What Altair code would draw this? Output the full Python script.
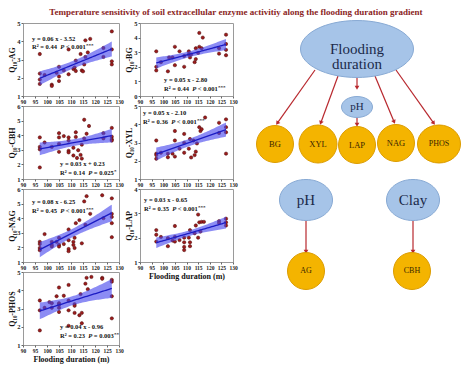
import altair as alt
import numpy as np
import pandas as pd

TITLE = "Temperature sensitivity of soil extracellular enzyme activitiy along the flooding duration gradient"
SERIF = "Liberation Serif"

# ---------------- scatter panel data ----------------
ag_x = [97, 97, 97, 97, 99, 102, 102, 104, 105, 105, 105, 107, 109, 109, 111, 112, 111.5, 112, 114, 114.5, 115, 115.5, 116, 116, 118, 117, 123.5, 123.5, 127, 127, 127, 127]
ag_y = [3.3, 2.23, 1.9, 1.66, 2.15, 1.62, 1.55, 2.27, 2.6, 2.07, 1.82, 2.4, 3.55, 2.19, 2.48, 2.37, 2.56, 2.94, 3.3, 2.4, 2.35, 2.73, 3.14, 4.05, 4.13, 3.39, 3.63, 3.14, 4.54, 3.55, 2.9, 2.73]

bg_x = [97, 97, 97, 99, 102, 104, 105, 105, 107, 109, 109, 111, 111, 111.5, 113.5, 114, 115.5, 115.5, 116.5, 117, 114, 115, 124, 124, 127, 127, 127, 127, 112, 102.5]
bg_y = [3.06, 2.0, 1.75, 2.32, 1.69, 2.64, 3.37, 2.11, 3.06, 2.74, 2.0, 2.85, 3.06, 2.64, 2.32, 3.27, 4.32, 3.37, 3.27, 4.0, 2.53, 2.95, 3.27, 2.9, 4.2, 3.56, 3.16, 2.79, 2.85, 2.64]

cbh_x = [97, 97, 97, 97, 99, 102, 105, 105, 105, 105, 107, 109, 109, 109, 109, 111, 112, 112, 111, 113, 112.5, 114, 114.5, 114.5, 115.5, 115.5, 117.5, 116.5, 123.5, 123.5, 127, 127, 127, 127]
cbh_y = [3.85, 3.2, 3.03, 1.79, 3.5, 3.2, 3.41, 4.14, 3.85, 2.86, 3.94, 3.85, 3.63, 2.93, 2.82, 3.14, 4.2, 3.88, 2.61, 2.97, 2.44, 2.65, 2.4, 3.35, 5.06, 3.78, 4.63, 4.1, 4.14, 3.78, 4.5, 3.9, 3.72, 3.63]

xyl_x = [97, 97, 97, 97, 99, 102, 102, 104, 105, 105, 105, 107, 109, 109, 109, 111, 111.5, 112, 113, 113.5, 114, 114.5, 115.5, 116, 116.5, 118, 124, 124, 127, 127, 127, 127]
xyl_y = [3.11, 2.39, 2.11, 2.31, 2.44, 2.39, 2.19, 2.39, 3.11, 3.63, 2.23, 2.66, 3.47, 2.44, 2.98, 2.66, 3.19, 2.18, 3.11, 2.31, 2.5, 2.95, 3.84, 3.63, 3.73, 4.37, 4.08, 3.52, 4.27, 3.84, 3.56, 2.39]

nag_x = [97, 97, 97, 97, 99, 102, 102, 102, 104, 105, 105, 105, 107, 109, 109, 109, 109, 111, 111.5, 111, 111.5, 112, 113.5, 114.5, 115.5, 116, 116.5, 118, 123, 123.5, 127, 127, 127, 127, 127]
nag_y = [2.38, 2.23, 1.96, 1.81, 2.91, 2.38, 2.17, 2.06, 2.38, 2.66, 2.17, 2.06, 2.23, 3.23, 2.49, 1.89, 1.74, 2.38, 2.66, 2.17, 1.96, 3.66, 3.87, 2.28, 5.15, 3.55, 5.51, 4.3, 5.57, 4.0, 5.36, 4.3, 3.66, 2.7, 4.09]

lap_x = [97, 97, 97, 99, 102, 102, 104, 105, 105, 105, 107, 109, 109, 109, 109, 111, 111.5, 111.5, 111.5, 113.5, 114, 115, 115, 115.5, 116, 116.5, 117.5, 124, 124, 127, 127, 127]
lap_y = [2.31, 2.12, 1.84, 2.03, 1.98, 1.65, 1.88, 2.48, 2.03, 1.84, 1.9, 2.0, 1.81, 1.62, 1.49, 2.0, 2.31, 1.81, 1.65, 2.18, 2.5, 2.95, 2.0, 2.63, 2.25, 2.65, 2.65, 2.68, 2.6, 2.78, 2.63, 2.5]

phos_x = [116.5, 118.5, 123, 123, 127, 127, 116, 117, 109, 105, 104, 107, 114, 97, 101, 105, 105, 127, 97, 97, 99, 102, 102, 105, 105, 109, 109, 109, 111.5, 111.5, 111.5, 113.5, 114.5, 114.5, 127]
phos_y = [4.68, 4.73, 4.68, 4.63, 4.57, 4.47, 4.36, 4.06, 4.29, 4.15, 3.67, 3.7, 3.79, 3.44, 3.35, 3.29, 3.2, 3.67, 2.9, 1.8, 3.04, 3.29, 3.04, 3.04, 2.81, 2.9, 3.44, 2.05, 3.24, 3.15, 2.76, 2.63, 2.76, 2.19, 2.46]

x_ticks = [90, 95, 100, 105, 110, 115, 120, 125, 130]

# ---------------- diagram data (page-pixel layout positions) ----------------
node_label = ["Flooding\nduration", "pH", "BG", "XYL", "LAP", "NAG", "PHOS", "pH", "Clay", "AG", "CBH"]
node_kind = ["factor", "factor", "enzyme", "enzyme", "enzyme", "enzyme", "enzyme", "factor", "factor", "enzyme", "enzyme"]
node_px = [358, 358, 276, 319, 358, 397, 440, 307, 414, 307, 413]
node_py = [51, 109, 146, 146, 147, 145, 146, 202, 202, 273, 273]
node_w = [113, 31, 37, 38, 37, 37, 43, 53, 53, 37, 37]
node_h = [57, 21, 37, 38, 35, 37, 38, 41, 41, 35, 37]
node_fs = [15, 11, 8.5, 8.5, 8.5, 8.5, 8, 15, 15, 8, 8]

arr_x1 = [316, 339, 358, 358, 376, 397, 307, 414]
arr_y1 = [72, 78, 79, 119, 78, 72, 223, 223]
arr_x2 = [277, 321, 358, 358, 396, 436, 307, 414]
arr_y2 = [127, 127, 92, 129, 126, 127, 256, 256]

DX0, DY0, DW, DH = 242, 25, 222, 290

CW = {"0": .5, "1": .5, "2": .5, "3": .5, "4": .5, "5": .5, "6": .5, "7": .5, "8": .5, "9": .5,
      ".": .25, " ": .25, "=": .57, "<": .57, "R": .722, "²": .3, "P": .611, "-": .333, "+": .57,
      "x": .5, "y": .5}


def tw(s, fs):
    return sum(CW.get(c, .5) for c in s) * fs


def txt(s, x, y, fs=6.5, style="normal", weight="bold"):
    return alt.Chart(pd.DataFrame({"t": [s]})).mark_text(
        align="left", baseline="middle", font=SERIF, fontSize=fs, fontWeight=weight,
        fontStyle=style, color="#111111"
    ).encode(x=alt.value(x), y=alt.value(y), text="t:N")


def panel(name, xs, ys, ylo, yhi, eq, r2, ptxt, stars, ax, ay, w, h, xtitle):
    x = np.array(xs, float)
    y = np.array(ys, float)
    n = len(x)
    b1, b0 = np.polyfit(x, y, 1)
    xg = np.linspace(x.min(), x.max(), 50)
    fit = b0 + b1 * xg
    s = np.sqrt(np.sum((y - (b0 + b1 * x)) ** 2) / (n - 2))
    se = s * np.sqrt(1 / n + (xg - x.mean()) ** 2 / np.sum((x - x.mean()) ** 2))
    t = 2.04
    band = pd.DataFrame({"x": xg, "fit": fit, "lo": fit - t * se, "hi": fit + t * se})
    pts = pd.DataFrame({"x": x, "y": y})

    xsc = alt.Scale(domain=[90, 130], nice=False)
    ysc = alt.Scale(domain=[ylo, yhi], nice=False)
    xkw = dict(values=x_ticks, format="d", tickSize=2, labelPadding=1, labelFontSize=5.5,
               labelOverlap=False, labelFlush=False, tickCount=9)
    if xtitle:
        xkw["title"] = "Flooding duration (m)"
        xkw["titlePadding"] = 2
    else:
        xkw["title"] = ""
    xax = alt.Axis(**xkw)
    yax = alt.Axis(values=list(range(ylo, yhi + 1)), format="d", tickSize=2, labelPadding=1,
                   tickCount=yhi - ylo + 1,
                   title="Q₁₀-" + name, titlePadding=0, labelOverlap=False, labelFlush=False)

    p = alt.Chart(pts).mark_circle(size=11, color="#9c1c1c", opacity=1, stroke="#4a0a0a",
                                   strokeWidth=0.5).encode(
        x=alt.X("x:Q", scale=xsc, axis=xax), y=alt.Y("y:Q", scale=ysc, axis=yax))
    b = alt.Chart(band).mark_area(color="#4646ee", opacity=0.62, clip=True).encode(
        x=alt.X("x:Q", scale=xsc, axis=xax), y=alt.Y("lo:Q", scale=ysc, axis=yax), y2="hi:Q")
    l = alt.Chart(band).mark_line(color="#1c1cc4", strokeWidth=1.3, clip=True).encode(
        x=alt.X("x:Q", scale=xsc, axis=xax), y=alt.Y("fit:Q", scale=ysc, axis=yax))

    fs = 6.5
    r2s = "R² = " + r2
    k = h / 78.0
    ay = ay * k
    xP = ax + tw(r2s + "  ", fs)
    xrest = xP + tw("P ", fs)
    xstar = xrest + tw(ptxt, fs) + 0.3
    texts = [
        txt(eq, ax, ay),
        txt(r2s, ax, ay + 8.5),
        txt("P", xP, ay + 8.5, style="italic"),
        txt(ptxt, xrest, ay + 8.5),
        txt(stars, xstar, ay + 6.5, fs=5),
    ]
    return alt.layer(p, b, l, *texts).properties(width=w, height=h)


H = 73
W1, W2 = 96, 93
ag = panel("AG", ag_x, ag_y, 1, 5, "y = 0.06 x - 3.52", "0.44", "< 0.001", "***", 9, 17, W1, H, False)
cbh = panel("CBH", cbh_x, cbh_y, 1, 6, "y = 0.03 x + 0.23", "0.14", "= 0.025", "*", 37, 62, W1, H, False)
nag = panel("NAG", nag_x, nag_y, 1, 6, "y = 0.08 x - 6.25", "0.45", "< 0.001", "***", 9, 14, W1, H, False)
phos = panel("PHOS", phos_x, phos_y, 1, 5, "y = 0.04 x - 0.96", "0.23", "= 0.003", "**", 37, 59, W1, H, True)
bg = panel("BG", bg_x, bg_y, 0, 5, "y = 0.05 x - 2.80", "0.44", "< 0.001", "***", 24, 61, W2, H, False)
xyl = panel("XYL", xyl_x, xyl_y, 1, 5, "y = 0.05 x - 2.10", "0.36", "< 0.001", "***", 3, 8, W2, H, False)
lap = panel("LAP", lap_x, lap_y, 1, 4, "y = 0.03 x - 0.65", "0.35", "< 0.001", "***", 4, 12, W2, H, True)

col1 = alt.vconcat(ag, cbh, nag, phos, spacing=-3)
col2 = alt.vconcat(bg, xyl, lap, spacing=-3)
left = alt.hconcat(col1, col2, spacing=1)

# ---------------- diagram ----------------
nodes = pd.DataFrame({
    "label": node_label,
    "x": [v - DX0 for v in node_px],
    "y": [v - DY0 for v in node_py],
    "shape": ["circle" if (k == "enzyme" and abs(w - h) < 3) else
              "M-1,0A1,{r:.3f},0,1,1,1,0A1,{r:.3f},0,1,1,-1,0Z".format(r=h / w)
              for k, w, h in zip(node_kind, node_w, node_h)],
    "size": [w * w for w in node_w],
    "fill": ["#a6c4e8" if k == "factor" else "#f4b400" for k in node_kind],
    "stroke": ["#88aad4" if k == "factor" else "#dc9c00" for k in node_kind],
    "tcol": ["#1b2a4a" if k == "factor" else "#3a2600" for k in node_kind],
    "fs": node_fs,
})

ax1 = np.array(arr_x1, float) - DX0
ay1 = np.array(arr_y1, float) - DY0
ax2 = np.array(arr_x2, float) - DX0
ay2 = np.array(arr_y2, float) - DY0
dx = ax2 - ax1
dy = ay2 - ay1
L = np.sqrt(dx ** 2 + dy ** 2)
ux, uy = dx / L, dy / L
arrows = pd.DataFrame({
    "x1": ax1, "y1": ay1,
    "x2": ax2 - ux * 3.5, "y2": ay2 - uy * 3.5,
    "hx": ax2 - ux * 2.2, "hy": ay2 - uy * 2.2,
    "ang": np.mod(np.degrees(np.arctan2(dx, -dy)), 360),
})

dxs = alt.Scale(domain=[0, DW], nice=False, zero=False)
dys = alt.Scale(domain=[DH, 0], nice=False, zero=False)

rules = alt.Chart(arrows).mark_rule(color="#b8282e", strokeWidth=1.2).encode(
    x=alt.X("x1:Q", scale=dxs, axis=None), y=alt.Y("y1:Q", scale=dys, axis=None),
    x2="x2:Q", y2="y2:Q")
heads = alt.Chart(arrows).mark_point(shape="triangle-up", filled=True, size=22, color="#b8282e",
                                     opacity=1).encode(
    x=alt.X("hx:Q", scale=dxs, axis=None), y=alt.Y("hy:Q", scale=dys, axis=None),
    angle=alt.Angle("ang:Q", scale=None))
shapes = alt.Chart(nodes).mark_point(filled=True, opacity=1, strokeWidth=1).encode(
    x=alt.X("x:Q", scale=dxs, axis=None), y=alt.Y("y:Q", scale=dys, axis=None),
    shape=alt.Shape("shape:N", scale=None), size=alt.Size("size:Q", scale=None),
    fill=alt.Fill("fill:N", scale=None), stroke=alt.Stroke("stroke:N", scale=None))
labels = alt.Chart(nodes).mark_text(font=SERIF, lineBreak="\n", align="center", baseline="middle",
                                    lineHeight=15).encode(
    x=alt.X("x:Q", scale=dxs, axis=None), y=alt.Y("y:Q", scale=dys, axis=None),
    text="label:N", size=alt.Size("fs:Q", scale=None), color=alt.Color("tcol:N", scale=None))

diagram = alt.layer(rules, heads, shapes, labels).properties(
    width=DW, height=DH, view=alt.ViewBackground(stroke="transparent"))

chart = alt.hconcat(left, diagram, spacing=2).properties(
    title=alt.TitleParams(TITLE, font=SERIF, fontSize=9, fontWeight="bold", color="#8b2525",
                          anchor="middle", offset=1),
    padding={"left": 0, "top": 0, "right": 0, "bottom": 0},
).configure_view(stroke="#9a9a9a").configure_axis(
    grid=False, domain=False, labelFont=SERIF, labelFontWeight="bold", labelFontSize=6.5,
    labelColor="#222222", tickColor="#666666", titleFont=SERIF, titleFontWeight="bold",
    titleFontSize=8, titleColor="#111111", labelOverlap=False
)

chart.save("out.html", embed_options={"renderer": "svg", "actions": False})
